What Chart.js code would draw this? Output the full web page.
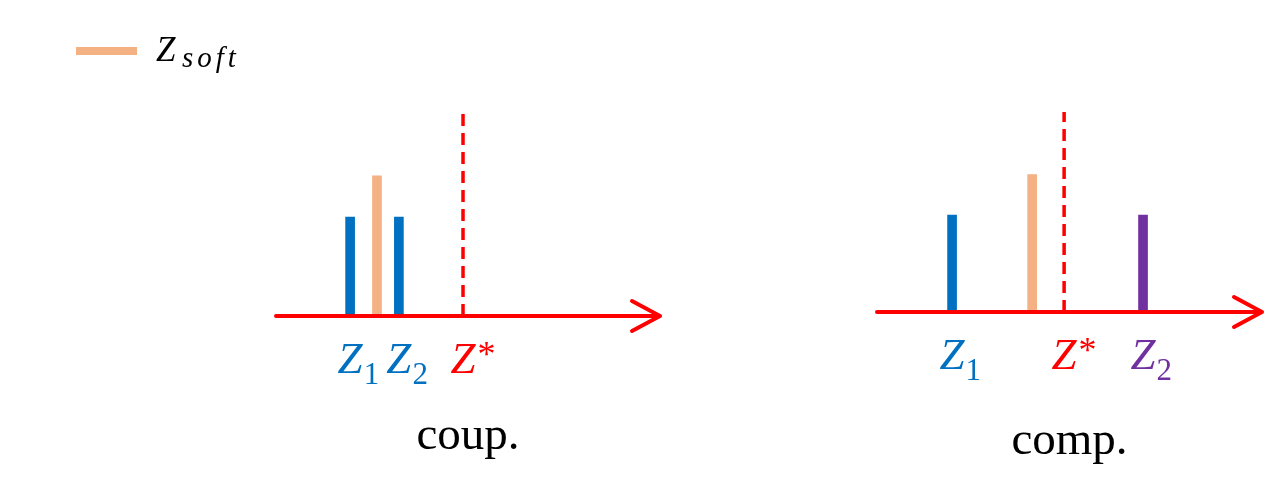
<!DOCTYPE html>
<html>
<head>
<meta charset="utf-8">
<script src="https://cdn.jsdelivr.net/npm/chart.js"></script>
<style>
  body { margin: 0; background: #fff; }
  .panel { position: absolute; top: 0; height: 486px; }
  #left-box { left: 0; width: 700px; }
  #right-box { left: 700px; width: 580px; }
</style>
</head>
<body>
<div class="panel" id="left-box"><canvas id="coup"></canvas></div>
<div class="panel" id="right-box"><canvas id="comp"></canvas></div>

<script>
  // marks on each axis: Z1, Z2, Z_soft, Z*
  const panelNames = ['coup.', 'comp.'];
  const coupX = [1.93, 3.2, 2.63, 4.87];
  const compX = [1.95, 6.91, 4.03, 4.86];
  const markHeights = [48, 48, 68, 99];
  const markBase = ['Z', 'Z', 'Z', 'Z'];
  const markSub = ['1', '2', 'soft', ''];
  const markSup = ['', '', '', '*'];

  const BLUE = '#0070C0';
  const ORANGE = '#F4B183';
  const RED = '#FF0000';
  const PURPLE = '#7030A0';

  // draws "Z" with sub/superscript, the Z centred on x
  function mathLabel(ctx, x, y, base, sub, sup, color, size) {
    ctx.save();
    ctx.fillStyle = color;
    ctx.textBaseline = 'alphabetic';
    ctx.textAlign = 'left';
    ctx.font = 'italic ' + size + 'px "Liberation Serif"';
    const w = ctx.measureText(base).width;
    const x0 = x - w / 2;
    ctx.fillText(base, x0, y);
    if (sub) {
      ctx.font = Math.round(size * 0.7) + 'px "Liberation Serif"';
      ctx.fillText(sub, x0 + w + 1, y + size * 0.24);
    }
    if (sup) {
      ctx.font = Math.round(size * 0.8) + 'px "Liberation Serif"';
      ctx.fillText(sup, x0 + w + 2, y - size * 0.16);
    }
    ctx.restore();
  }

  const axisArrow = {
    id: 'axisArrow',
    afterDatasetsDraw(chart, args, opts) {
      const { ctx, scales: { x, y } } = chart;
      const y0 = y.getPixelForValue(0);
      const xs = x.getPixelForValue(x.min);
      const xe = x.getPixelForValue(x.max);
      ctx.save();
      ctx.strokeStyle = RED;
      ctx.lineWidth = 4;
      ctx.lineCap = 'round';
      ctx.lineJoin = 'round';
      ctx.beginPath();
      ctx.moveTo(xs, y0);
      ctx.lineTo(xe, y0);
      ctx.moveTo(xe - 28, y0 - 15);
      ctx.lineTo(xe, y0);
      ctx.lineTo(xe - 28, y0 + 15);
      ctx.stroke();
      ctx.restore();

      // labels under the axis
      const pos = opts.positions;
      const colors = opts.labelColors;
      [0, 1, 3].forEach(i => {
        mathLabel(ctx, x.getPixelForValue(pos[i]), y0 + 57,
          markBase[i], markSub[i], markSup[i], colors[i], 45);
      });

      // legend entry for Z_soft
      if (opts.legend) {
        ctx.save();
        ctx.strokeStyle = ORANGE;
        ctx.lineWidth = 8;
        ctx.beginPath();
        ctx.moveTo(76, 51);
        ctx.lineTo(137, 51);
        ctx.stroke();
        ctx.fillStyle = '#000';
        ctx.font = 'italic 35px "Liberation Serif"';
        ctx.fillText(markBase[2], 156, 61);
        ctx.font = 'italic 29px "Liberation Serif"';
        ctx.letterSpacing = '4px';
        ctx.fillText(markSub[2], 182, 67);
        ctx.restore();
      }
    }
  };

  function makePanel(id, positions, z2Color, title, pad, titleTop, legend) {
    return new Chart(document.getElementById(id), {
      type: 'bar',
      data: {
        datasets: [
          {
            label: 'Z1',
            data: [{ x: positions[0], y: markHeights[0] }],
            backgroundColor: BLUE,
            barThickness: 9,
            grouped: false
          },
          {
            label: 'Z2',
            data: [{ x: positions[1], y: markHeights[1] }],
            backgroundColor: z2Color,
            barThickness: 9,
            grouped: false
          },
          {
            label: 'Zsoft',
            data: [{ x: positions[2], y: markHeights[2] }],
            backgroundColor: ORANGE,
            barThickness: 9,
            grouped: false
          },
          {
            type: 'line',
            label: 'Z*',
            data: [{ x: positions[3], y: 0 }, { x: positions[3], y: markHeights[3] }],
            borderColor: RED,
            borderWidth: 3.5,
            borderDash: [12, 7],
            pointRadius: 0
          }
        ]
      },
      options: {
        responsive: true,
        maintainAspectRatio: false,
        animation: false,
        layout: { padding: pad },
        scales: {
          x: { type: 'linear', display: false, offset: false, min: 0, max: 10 },
          y: { display: false, min: 0, max: 100 }
        },
        plugins: {
          legend: { display: false },
          tooltip: { enabled: false },
          title: {
            display: true,
            position: 'bottom',
            text: title,
            color: '#000',
            font: { family: 'Liberation Serif', size: 47, weight: 'normal' },
            padding: { top: titleTop, bottom: 0 }
          },
          axisArrow: {
            positions,
            labelColors: [BLUE, z2Color, ORANGE, RED],
            legend
          }
        }
      },
      plugins: [axisArrow]
    });
  }

  makePanel('coup', coupX, BLUE, panelNames[0], { left: 276, right: 40, top: 110, bottom: 21 }, 92.6, true);
  makePanel('comp', compX, PURPLE, panelNames[1], { left: 177, right: 18, top: 110, bottom: 16 }, 101.6, false);
</script>
</body>
</html>
